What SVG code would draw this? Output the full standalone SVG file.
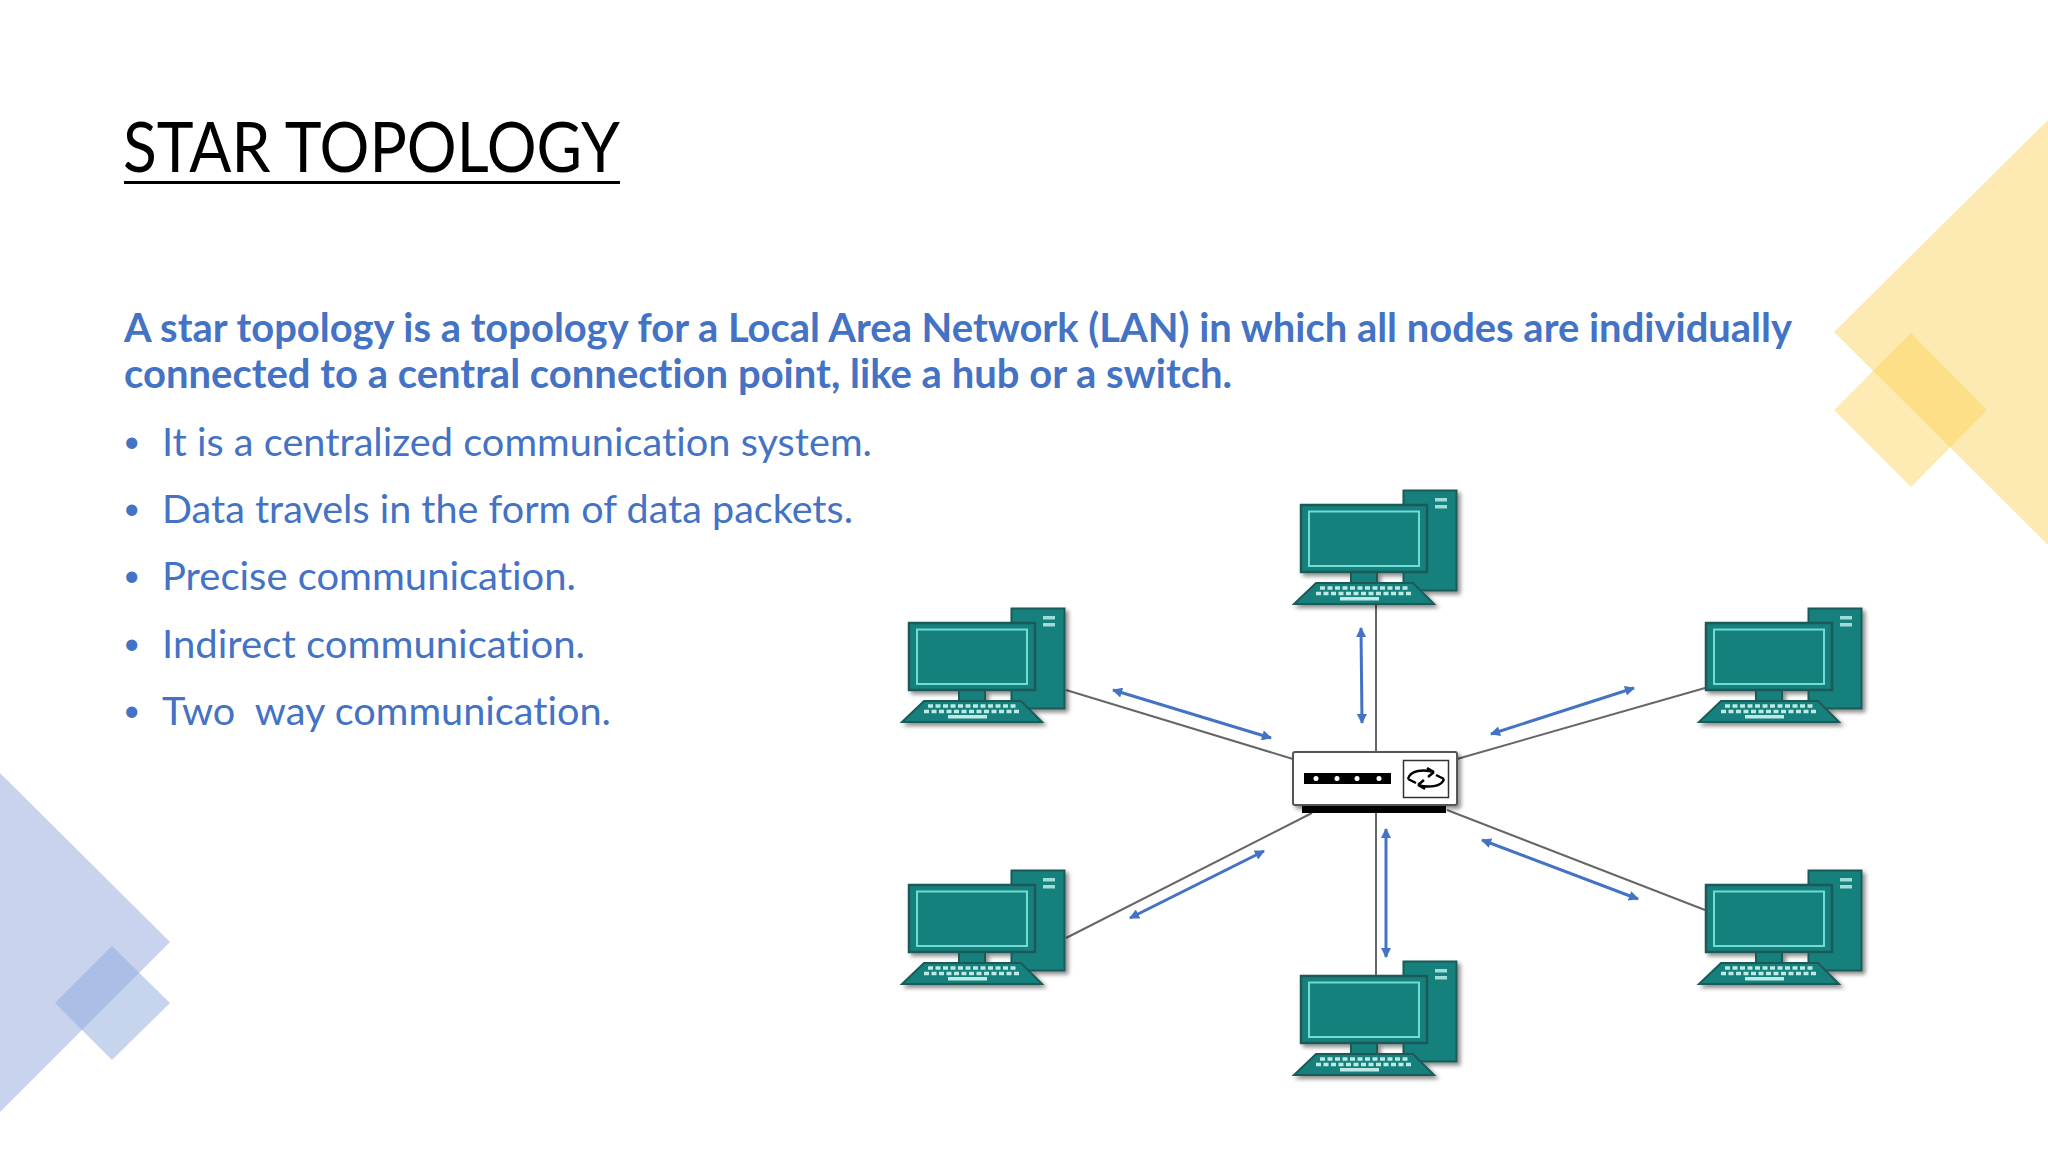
<svg xmlns="http://www.w3.org/2000/svg" width="2048" height="1152" viewBox="0 0 2048 1152">
<style>
text{font-variant-ligatures:none}
.title{font-family:"Lato","Liberation Sans",sans-serif;font-size:69px;font-weight:400;fill:#000}
.lead{font-family:"Lato","Liberation Sans",sans-serif;font-size:40px;font-weight:700;fill:#4472c4}
.item{font-family:"Lato","Liberation Sans",sans-serif;font-size:38px;fill:#4472c4}
.dot{font-size:30px}
.wire{stroke:#666;stroke-width:2;fill:none}
.arrow{stroke:#4472c4;stroke-width:3;fill:none;marker-start:url(#head);marker-end:url(#head)}
</style>
<defs>
<marker id="head" viewBox="0 0 10 10" refX="9" refY="5" markerWidth="14" markerHeight="10" markerUnits="userSpaceOnUse" orient="auto-start-reverse"><path d="M0 0L10 5L0 10Z" fill="#4472c4"/></marker>
<filter id="sh" x="-10%" y="-10%" width="125%" height="125%"><feGaussianBlur in="SourceAlpha" stdDeviation="2"/><feOffset dx="3" dy="3"/><feComponentTransfer><feFuncA type="linear" slope="0.45"/></feComponentTransfer><feMerge><feMergeNode/><feMergeNode in="SourceGraphic"/></feMerge></filter>
<filter id="soft"><feGaussianBlur stdDeviation="0.6"/></filter>
<g id="pc" filter="url(#sh)">
<g filter="url(#soft)">
<rect x="1403.500" y="490.500" width="53" height="100" fill="#14807c" stroke="#1d5a58" stroke-width="2"/>
<rect x="1435" y="498" width="12" height="3.500" fill="#9fdcd8"/><rect x="1435" y="505" width="12" height="3.500" fill="#9fdcd8"/>
<rect x="1351" y="572" width="26" height="12" fill="#14807c" stroke="#1d5a58" stroke-width="2"/>
<rect x="1301" y="505" width="126" height="67" fill="#14807c" stroke="#1d5a58" stroke-width="2.500"/>
<rect x="1309" y="511.500" width="110" height="54.500" fill="#14807c" stroke="#6fdcd4" stroke-width="2"/>
<path d="M1316 583H1413L1434 604H1294Z" fill="#14807c" stroke="#1d5a58" stroke-width="2"/>
<path d="M1320 588H1408M1316 593.500H1412" stroke="#bfe9e4" stroke-width="3.500" stroke-dasharray="5 2.500" fill="none"/>
<rect x="1340" y="597" width="39" height="3.500" fill="#bfe9e4"/>
</g>
</g>
</defs>
<rect width="2048" height="1152" fill="#fff"/>
<g id="decor">
<path d="M2048 120L1834 332L2048 545Z" fill="#fdeab2"/>
<path d="M1834 410L1911 333L1987 410L1911 487Z" fill="#fbd04a" fill-opacity=".42"/>
<path d="M0 773L170 942L0 1112Z" fill="#c9d3ee"/>
<path d="M55 1003L112 946L170 1003L112 1060Z" fill="#8eaadb" fill-opacity=".5"/>
</g>
<g id="text">
<text class="title" x="123" y="172" textLength="497" lengthAdjust="spacingAndGlyphs">STAR TOPOLOGY</text>
<rect x="124" y="181" width="496" height="3" fill="#000"/>
<text class="lead" x="124" y="342" textLength="1668" lengthAdjust="spacingAndGlyphs">A star topology is a topology for a Local Area Network (LAN) in which all nodes are individually</text>
<text class="lead" x="124" y="388" textLength="1108" lengthAdjust="spacingAndGlyphs">connected to a central connection point, like a hub or a switch.</text>
<g class="item">
<text class="dot" x="123" y="452">•</text><text x="162" y="456" textLength="710" lengthAdjust="spacingAndGlyphs">It is a centralized communication system.</text>
<text class="dot" x="123" y="519">•</text><text x="162" y="523" textLength="691" lengthAdjust="spacingAndGlyphs">Data travels in the form of data packets.</text>
<text class="dot" x="123" y="586">•</text><text x="162" y="590" textLength="414" lengthAdjust="spacingAndGlyphs">Precise communication.</text>
<text class="dot" x="123" y="654">•</text><text x="162" y="658" textLength="423" lengthAdjust="spacingAndGlyphs">Indirect communication.</text>
<text class="dot" x="123" y="721">•</text><text x="162" y="725" xml:space="preserve" textLength="449" lengthAdjust="spacingAndGlyphs">Two  way communication.</text>
</g>
</g>
<g id="connectors">
<path class="wire" d="M1376 604V752M1376 812V975M1066 690L1293 759M1457 759L1705 688M1066 938L1312 813M1447 810L1705 910"/>
<path class="arrow" d="M1361 628L1362 723"/>
<path class="arrow" d="M1113 690L1271 738"/>
<path class="arrow" d="M1491 734L1634 688"/>
<path class="arrow" d="M1130 918L1264 851"/>
<path class="arrow" d="M1482 840L1638 899"/>
<path class="arrow" d="M1386 829V957"/>
</g>
<g id="pc-top"><use href="#pc"/></g>
<g id="pc-upper-left"><use href="#pc" x="-392" y="118"/></g>
<g id="pc-upper-right"><use href="#pc" x="405" y="118"/></g>
<g id="pc-lower-left"><use href="#pc" x="-392" y="380"/></g>
<g id="pc-lower-right"><use href="#pc" x="405" y="380"/></g>
<g id="pc-bottom"><use href="#pc" y="471"/></g>
<g id="hub">
<rect x="1302" y="804" width="144" height="9" fill="#000"/>
<rect x="1293" y="752" width="164" height="53" rx="2" fill="#fff" stroke="#555" stroke-width="2" filter="url(#sh)"/>
<rect x="1304" y="773" width="87" height="11" fill="#000"/>
<g fill="#fff"><circle cx="1316" cy="778.500" r="2.500"/><circle cx="1337" cy="778.500" r="2.500"/><circle cx="1357" cy="778.500" r="2.500"/><circle cx="1379" cy="778.500" r="2.500"/></g>
<rect x="1403.500" y="760.500" width="45" height="37" fill="#fff" stroke="#333" stroke-width="1.500"/>
<path d="M1408 779C1410 770 1424 769 1434 772M1444 779C1442 787 1428 788 1418 785M1434 772L1427 768M1434 772L1428 777M1418 785L1425 789M1418 785L1424 780M1408 779L1416 783M1444 779L1436 775" fill="none" stroke="#000" stroke-width="2.500"/>
</g>
</svg>
